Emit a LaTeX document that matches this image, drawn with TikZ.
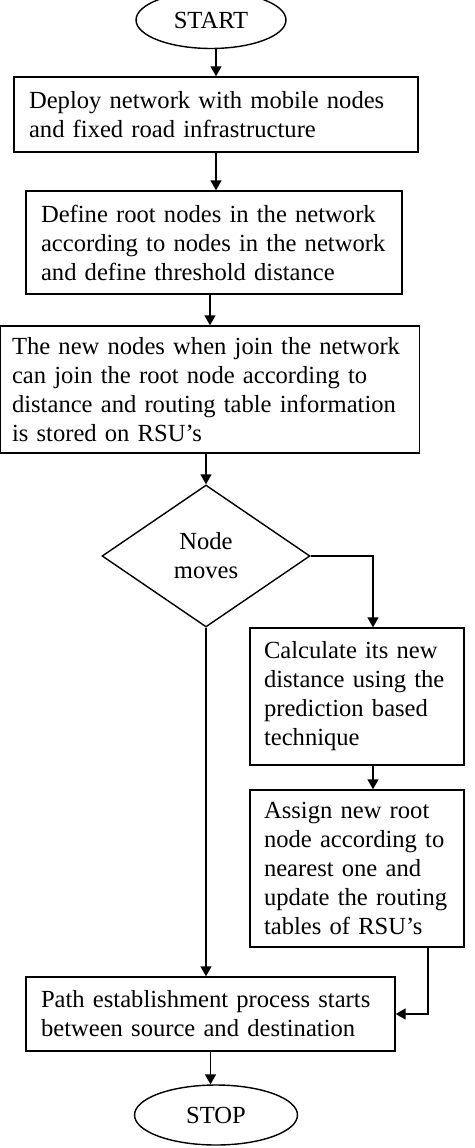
\documentclass[tikz,border=0pt]{standalone}
\usepackage{fontspec}
\setmainfont{Liberation Serif}
\usepackage{tikz}
\usetikzlibrary{shapes.geometric}
\usetikzlibrary{arrows.meta}

\tikzset{
  caja/.style={draw, line width=0.8pt, align=left, inner xsep=0.3cm, inner ysep=0pt,
    font=\fontsize{14}{16.5}\selectfont},
  terminal/.style={draw, ellipse, line width=0.8pt, inner sep=0pt,
    font=\fontsize{14}{16.5}\selectfont},
  decision/.style={draw, diamond, aspect=1.46, line width=0.8pt, inner sep=0pt, align=center,
    font=\fontsize{14}{16.5}\selectfont},
  flecha/.style={-{Triangle[length=0.2cm,width=0.22cm]}, line width=0.8pt}
}

\begin{document}
\begin{tikzpicture}[x=0.02cm, y=0.02cm]
        \useasboundingbox (0,0) rectangle (474,-1148);

        % Inicio y fin
        \node[terminal, minimum width=3cm, minimum height=1.14cm] (start) at (211,-20) {START};
        \node[terminal, minimum width=3.26cm, minimum height=1.2cm] (stop) at (216,-1115) {STOP};

        % Pasos de la columna principal
        \node[caja, text width=7.48cm, minimum height=1.5cm] (deploy) at (216,-114.5)
            {Deploy network with mobile nodes\\and fixed road infrastructure};
        \node[caja, text width=6.92cm, minimum height=2.06cm] (define) at (214,-242.5)
            {Define root nodes in the network\\according to nodes in the network\\and define threshold distance};
        \node[caja, text width=7.92cm, inner xsep=0.23cm, minimum height=2.54cm] (join) at (210,-389.5)
            {The new nodes when join the network\\can join the root node according to\\distance and routing table information\\is stored on RSU's};

        % Decision
        \node[decision, minimum width=4.16cm, minimum height=2.84cm] (moves) at (206,-556) {Node\\moves};

        % Rama derecha
        \node[caja, text width=3.72cm, inner xsep=0.28cm, minimum height=2.74cm] (calc) at (357,-696.5)
            {Calculate its new\\distance using the\\prediction based\\technique};
        \node[caja, text width=3.72cm, inner xsep=0.28cm, minimum height=3.14cm] (assign) at (357,-868.5)
            {Assign new root\\node according to\\nearest one and\\update the routing\\tables of RSU's};

        % Paso final
        \node[caja, text width=6.78cm, minimum height=1.48cm] (path) at (210.5,-1014)
            {Path establishment process starts\\between source and destination};

        % Flechas
        \draw[flecha] (deploy.north |- start.south) -- (deploy.north);
        \draw[flecha] (deploy.south) -- (deploy.south |- define.north);
        \draw[flecha] (join.north |- define.south) -- (join.north);
        \draw[flecha] (moves.north |- join.south) -- (moves.north);
        \draw[flecha] (moves.east) -| ([xshift=0.32cm]calc.north);
        \draw[flecha] ([xshift=0.32cm]calc.south) -- ([xshift=0.32cm]assign.north);
        \draw[flecha] ([xshift=1.42cm]assign.south) |- (path.east);
        \draw[flecha] (moves.south) -- (moves.south |- path.north);
        \draw[flecha] (path.south) -- (path.south |- stop.north);
\end{tikzpicture}
\end{document}
